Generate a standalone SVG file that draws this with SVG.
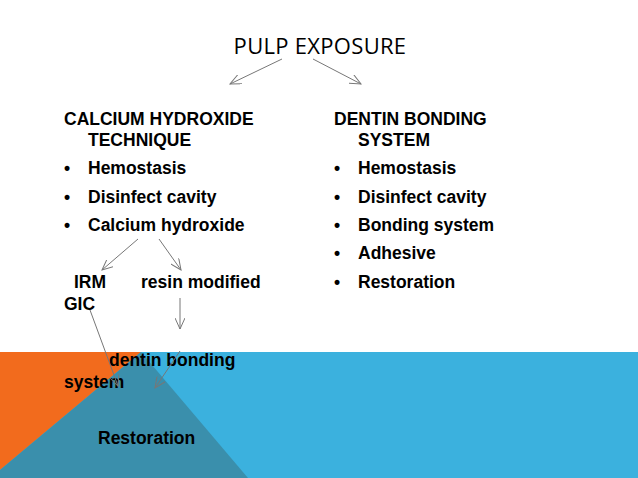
<svg xmlns="http://www.w3.org/2000/svg" width="638" height="478" viewBox="0 0 638 478">
<style>
.t{font-family:"Liberation Sans",Arial,sans-serif;font-weight:bold;font-size:17.5px;fill:#000}
.h{font-family:"Open Sans","Liberation Sans",sans-serif;font-size:22px;fill:#000;letter-spacing:0.3px}
.c line{stroke:#777;stroke-width:1}
</style>
<defs><marker id="a" markerWidth="12" markerHeight="10" refX="11" refY="5" orient="auto" markerUnits="userSpaceOnUse"><path d="M0,0 L11,5 L0,10" fill="none" stroke="#777" stroke-width="1"/></marker></defs>
<rect width="638" height="478" fill="#fff"/>
<g id="bg">
<rect x="0" y="352" width="638" height="126" fill="#3bb1de"/>
<polygon points="0,352 141,352 0,470" fill="#f26b1d"/>
<polygon points="141,352 248,478 0,478 0,470" fill="#3a8fac"/>
</g>
<g id="title"><text class="h" x="320" y="54" text-anchor="middle">PULP EXPOSURE</text></g>
<g id="left">
<text class="t" x="64" y="125">CALCIUM HYDROXIDE</text>
<text class="t" x="88" y="146">TECHNIQUE</text>
<text class="t" x="64" y="174">•</text><text class="t" x="88" y="174">Hemostasis</text>
<text class="t" x="64" y="203">•</text><text class="t" x="88" y="203">Disinfect cavity</text>
<text class="t" x="64" y="231">•</text><text class="t" x="88" y="231">Calcium hydroxide</text>
</g>
<g id="right">
<text class="t" x="334" y="125">DENTIN BONDING</text>
<text class="t" x="358" y="146">SYSTEM</text>
<text class="t" x="334" y="174">•</text><text class="t" x="358" y="174">Hemostasis</text>
<text class="t" x="334" y="203">•</text><text class="t" x="358" y="203">Disinfect cavity</text>
<text class="t" x="334" y="231">•</text><text class="t" x="358" y="231">Bonding system</text>
<text class="t" x="334" y="259">•</text><text class="t" x="358" y="259">Adhesive</text>
<text class="t" x="334" y="288">•</text><text class="t" x="358" y="288">Restoration</text>
</g>
<g id="irm"><text class="t" x="74" y="288">IRM</text><text class="t" x="64" y="310">GIC</text></g>
<g id="resin"><text class="t" x="141" y="288">resin modified</text></g>
<g id="dentin"><text class="t" x="109" y="366">dentin bonding</text><text class="t" x="64" y="388">system</text></g>
<g id="rest"><text class="t" x="98" y="444">Restoration</text></g>
<g class="c" id="connectors">
<line x1="282" y1="59" x2="230" y2="84" marker-end="url(#a)"/>
<line x1="313" y1="59" x2="361" y2="84" marker-end="url(#a)"/>
<line x1="138" y1="239" x2="102" y2="270" marker-end="url(#a)"/>
<line x1="159" y1="239" x2="181" y2="270" marker-end="url(#a)"/>
<line x1="180" y1="298" x2="180" y2="329" marker-end="url(#a)"/>
<line x1="90" y1="310" x2="118" y2="386" marker-end="url(#a)"/>
<line x1="180" y1="351" x2="155" y2="388" marker-end="url(#a)"/>
</g>
</svg>
